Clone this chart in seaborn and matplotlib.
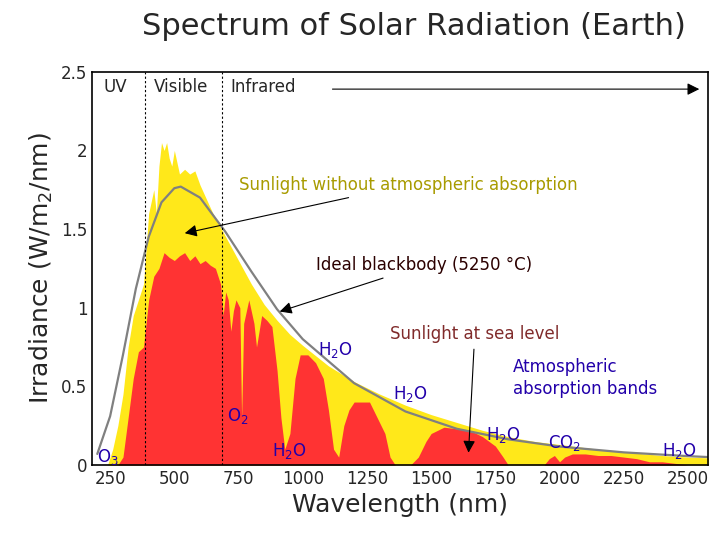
import matplotlib
matplotlib.use("Agg")
import matplotlib.pyplot as plt
import seaborn as sns
import pandas as pd

sns.set_style("white")

# blackbody 5250 °C
bb_nm = [200, 250, 300, 350, 400, 450, 500, 525, 600, 700, 800, 900, 1000, 1200,
         1400, 1600, 1800, 2000, 2250, 2500, 2580]
bb_val = [0.07, 0.31, 0.70, 1.12, 1.45, 1.67, 1.76, 1.77, 1.70, 1.48, 1.23, 0.99, 0.80, 0.52,
          0.34, 0.23, 0.163, 0.117, 0.08, 0.056, 0.05]

# top of atmosphere
top_nm = [240, 260, 280, 300, 320, 340, 360, 380, 400, 420, 430, 440, 450, 460, 470, 480,
          490, 500, 520, 540, 560, 580, 600, 650, 700, 750, 800, 850, 900, 950, 1000, 1100,
          1200, 1300, 1400, 1500, 1600, 1700, 1800, 1900, 2000, 2100, 2200, 2300, 2400,
          2500, 2580]
top_val = [0, 0.1, 0.25, 0.45, 0.75, 0.95, 1.05, 1.15, 1.6, 1.75, 1.6, 1.9, 2.05, 2.0, 2.05,
           1.95, 1.9, 2.0, 1.85, 1.88, 1.85, 1.87, 1.78, 1.6, 1.45, 1.3, 1.15, 1.02, 0.92,
           0.83, 0.76, 0.63, 0.53, 0.45, 0.38, 0.32, 0.27, 0.22, 0.18, 0.15, 0.13, 0.11,
           0.09, 0.075, 0.06, 0.05, 0.045]

# sea level
sea_nm = [280, 300, 320, 340, 360, 380, 400, 420, 440, 460, 480, 500, 520, 540, 560, 580,
          600, 620, 640, 660, 680, 690, 700, 710, 720, 730, 740, 755, 762, 770, 790, 810,
          820, 840, 860, 880, 900, 915, 930, 950, 970, 990, 1020, 1050, 1080, 1100, 1120,
          1140, 1160, 1180, 1200, 1230, 1260, 1290, 1320, 1340, 1360, 1420, 1450, 1480,
          1500, 1550, 1600, 1650, 1700, 1750, 1780, 1800, 1940, 1960, 1980, 2000, 2020,
          2050, 2100, 2150, 2200, 2250, 2300, 2350, 2400, 2450, 2500, 2580]
sea_val = [0, 0.05, 0.3, 0.55, 0.72, 0.75, 1.05, 1.2, 1.25, 1.35, 1.32, 1.3, 1.33, 1.35,
           1.3, 1.33, 1.28, 1.3, 1.27, 1.25, 1.15, 0.95, 1.1, 1.05, 0.85, 0.98, 1.05, 1.0,
           0.3, 0.9, 1.05, 0.9, 0.75, 0.95, 0.92, 0.88, 0.6, 0.3, 0.1, 0.2, 0.55, 0.7, 0.7,
           0.65, 0.55, 0.35, 0.1, 0.05, 0.25, 0.35, 0.4, 0.4, 0.4, 0.3, 0.2, 0.05, 0, 0,
           0.05, 0.15, 0.2, 0.24, 0.23, 0.22, 0.18, 0.12, 0.05, 0, 0, 0.04, 0.06, 0.02,
           0.05, 0.07, 0.07, 0.06, 0.06, 0.05, 0.04, 0.02, 0.02, 0.01, 0, 0]

x_ticks = [250, 500, 750, 1000, 1250, 1500, 1750, 2000, 2250, 2500]
y_ticks = [0, 0.5, 1, 1.5, 2, 2.5]
y_tick_labels = ["0", "0.5", "1", "1.5", "2", "2.5"]

fig = plt.figure(figsize=(7.2, 5.4), dpi=100)
ax = fig.add_axes([0.128, 0.139, 0.856, 0.728])

ax.fill_between(top_nm, top_val, color="#ffe81a", lw=0)
ax.fill_between(sea_nm, sea_val, color="#ff3333", lw=0)
bb = pd.DataFrame({"nm": bb_nm, "val": bb_val})
sns.lineplot(data=bb, x="nm", y="val", ax=ax, color="#808080", lw=1.6)

for v in (385, 685):
    ax.axvline(v, color="black", ls=(0, (2, 2)), lw=0.8)

ax.set_xlim(180, 2580)
ax.set_ylim(0, 2.5)
ax.set_xticks(x_ticks)
ax.set_yticks(y_ticks)
ax.set_yticklabels(y_tick_labels)
ax.tick_params(labelsize=12, length=3, direction="in")
for s in ax.spines.values():
    s.set_color("black")
    s.set_linewidth(1.2)
ax.set_xlabel("Wavelength (nm)", fontsize=18)
ax.set_ylabel("Irradiance (W/m$_2$/nm)", fontsize=18)
fig.text(0.575, 0.935, "Spectrum of Solar Radiation (Earth)", fontsize=22, ha="center")

ax.text(225, 2.37, "UV", fontsize=12)
ax.text(420, 2.37, "Visible", fontsize=12)
ax.text(720, 2.37, "Infrared", fontsize=12)
ax.annotate("", xy=(2555, 2.39), xytext=(1105, 2.39),
            arrowprops=dict(arrowstyle="-|>", color="black", lw=0.8, mutation_scale=18))

ax.annotate("Sunlight without atmospheric absorption", xy=(530, 1.47), xytext=(750, 1.75),
            fontsize=12, color="#a89b00",
            arrowprops=dict(arrowstyle="-|>", color="black", lw=0.8, mutation_scale=18))
ax.annotate("Ideal blackbody (5250 °C)", xy=(900, 0.97), xytext=(1050, 1.24),
            fontsize=12, color="#2b0000",
            arrowprops=dict(arrowstyle="-|>", color="black", lw=0.8, mutation_scale=18))
ax.annotate("Sunlight at sea level", xy=(1645, 0.06), xytext=(1340, 0.8),
            fontsize=12, color="#802b2b",
            arrowprops=dict(arrowstyle="-|>", color="black", lw=0.8, mutation_scale=18))
ax.text(1820, 0.45, "Atmospheric\nabsorption bands", fontsize=12, color="#2200aa",
        linespacing=1.3)

blue = "#2200aa"
labels = [(200, 0.02, "O$_3$"), (705, 0.28, "O$_2$"), (880, 0.06, "H$_2$O"),
          (1060, 0.7, "H$_2$O"), (1350, 0.42, "H$_2$O"), (1715, 0.16, "H$_2$O"),
          (1955, 0.11, "CO$_2$"), (2400, 0.06, "H$_2$O")]
for x, y, t in labels:
    ax.text(x, y, t, fontsize=12, color=blue)

fig.savefig("out.png", dpi=100)
